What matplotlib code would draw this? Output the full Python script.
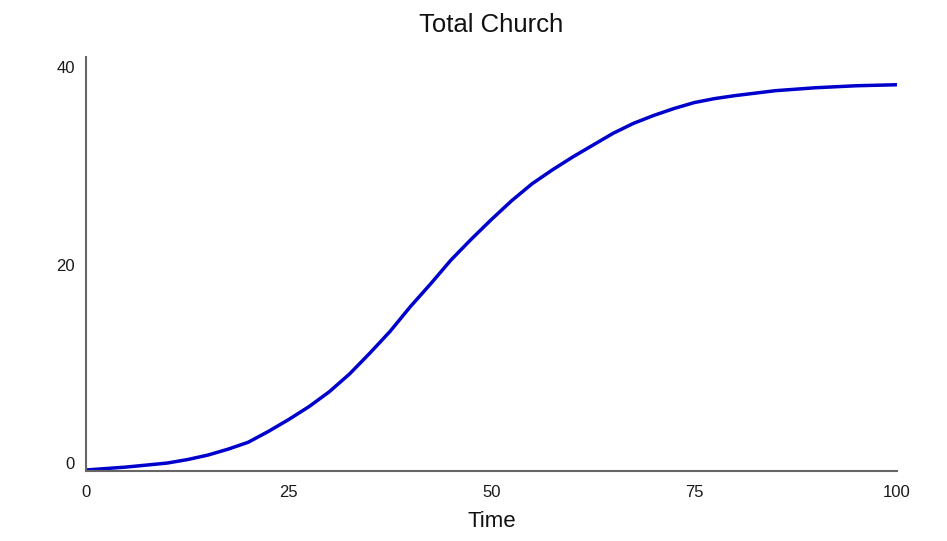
import numpy as np
import matplotlib.pyplot as plt

plt.rcParams['font.family'] = ['Liberation Sans', 'DejaVu Sans']

# values
time = [0, 5, 10, 12.5, 15, 17.5, 20, 22.5, 25, 27.5, 30, 32.5, 35, 37.5, 40, 42.5,
        45, 47.5, 50, 52.5, 55, 57.5, 60, 62.5, 65, 67.5, 70, 72.5,
        75, 77.5, 80, 85, 90, 95, 100]
church = [-0.7, -0.4, 0.0, 0.35, 0.8, 1.4, 2.1, 3.2, 4.4, 5.7, 7.2, 9.0, 11.1, 13.3, 15.8, 18.1,
          20.5, 22.6, 24.6, 26.5, 28.2, 29.6, 30.9, 32.1, 33.3, 34.3, 35.1, 35.8,
          36.4, 36.8, 37.1, 37.6, 37.9, 38.1, 38.2]
xticks = [0, 25, 50, 75, 100]
yticks = [0, 20, 40]

fig = plt.figure(figsize=(9.47, 5.41), dpi=100)
ax = fig.add_axes([0.0908, 0.1294, 0.8564, 0.7652])

ax.plot(time, church, color='#0000cc', lw=2.5, solid_capstyle='butt',
        solid_joinstyle='round')

ax.set_xlim(0, 100)
ax.set_ylim(-0.8, 41.0)
ax.set_xticks(xticks)
ax.set_yticks(yticks)
ax.tick_params(axis='both', length=0, labelsize=12, colors='#1a1a1a')
ax.tick_params(axis='x', pad=10)
ax.tick_params(axis='y', pad=8)

for s in ['top', 'right']:
    ax.spines[s].set_visible(False)
for s in ['left', 'bottom']:
    ax.spines[s].set_color('#666666')
    ax.spines[s].set_linewidth(1.5)

ax.set_title('Total Church', fontsize=18.5, pad=18, color='#111111')
ax.set_xlabel('Time', fontsize=16, labelpad=8, color='#111111')

fig.savefig('out.png', dpi=100)
